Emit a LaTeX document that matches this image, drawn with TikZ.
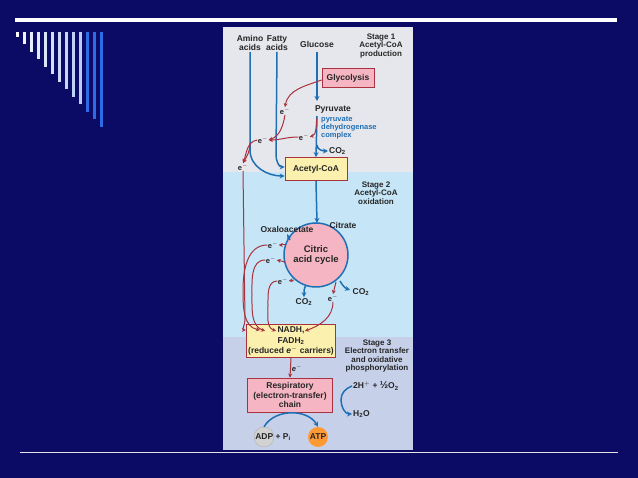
\documentclass[tikz,border=0pt]{standalone}
\usepackage{fontspec}
\setmainfont{Liberation Sans}
\usetikzlibrary{arrows.meta}
\definecolor{bg}{HTML}{0B0B66}
\definecolor{bl}{HTML}{1F6FB5}
\definecolor{rd}{HTML}{A8323F}
\definecolor{pk}{HTML}{F5B5C2}
\definecolor{yl}{HTML}{FBF0AE}
\definecolor{sA}{HTML}{E6E7EC}
\definecolor{sB}{HTML}{C6E6F7}
\definecolor{sC}{HTML}{C6D0E9}
\definecolor{barA}{HTML}{F2F4FA}
\definecolor{barB}{HTML}{2E6BE6}
\tikzset{
 lbl/.style={font=\fontsize{8.5}{9.5}\selectfont\bfseries, text=black!85, align=center, inner sep=1pt},
 stg/.style={lbl, font=\fontsize{8}{8.6}\selectfont\bfseries},
 el/.style={font=\fontsize{7.5}{8}\selectfont\bfseries, inner sep=0.5pt, text=black!85},
 bbox/.style={draw=rd, line width=0.7pt, lbl, inner sep=2pt},
 barr/.style={draw=bl, line width=1.5pt, -{Stealth[length=5pt,width=5pt]}},
 rarr/.style={draw=rd, line width=1pt, -{Stealth[length=4pt,width=4pt]}},
}
\begin{document}
\begin{tikzpicture}[x=1pt,y=-1pt]
\fill[bg] (0,0) rectangle (638,478);
\useasboundingbox (0,0) rectangle (638,478);
\fill[white] (15,18) rectangle (617,22.5);
\draw[white!80!gray, line width=0.6pt] (20,452) -- (618,452);
\foreach \i in {0,...,12}{
  \pgfmathsetmacro{\xx}{17+7.05*\i}
  \pgfmathsetmacro{\yy}{37+7.5*\i}
  \ifnum\i<10 \pgfmathsetmacro{\mix}{100-6*\i}\colorlet{bc}{barA!\mix!barB!60!white}\else\colorlet{bc}{barB}\fi
  \fill[bc] (\xx-1.5,32) rectangle (\xx+1.5,\yy);
}
% panel
\fill[sA] (223,27) rectangle (413,172);
\fill[sB] (223,172) rectangle (413,337);
\fill[sC] (223,337) rectangle (413,450);
% stage 1
\node[lbl] (amino) at (250,43) {Amino\\acids};
\node[lbl] (fatty) at (277,43) {Fatty\\acids};
\node[lbl] (glu) at (317,44) {Glucose};
\node[stg] (st1) at (381,46) {Stage 1\\Acetyl-CoA\\production};
\node[bbox, fill=pk, minimum width=52pt, minimum height=19pt] (gly) at (348,78) {Glycolysis};
\node[lbl] (pyr) at (333,109) {Pyruvate};
\node[font=\fontsize{7.5}{8.3}\selectfont\bfseries, text=bl, align=left, anchor=north west, inner sep=0] (pdh) at (321,116) {pyruvate\\dehydrogenase\\complex};
\node[lbl, anchor=west] (co2a) at (328,151) {CO$_\mathbf{2}$};
\node[bbox, fill=yl, minimum width=62pt, minimum height=23pt] (acoa) at (316,169) {Acetyl-CoA};
\node[el] (e1) at (285,111) {e$^-$};
\node[el] (e2) at (304,137) {e$^-$};
\node[el] (e3) at (263,140) {e$^-$};
\node[el] (e4) at (243,167) {e$^-$};
\coordinate (gtop) at (317,52);
\coordinate (pbot) at (317,116);
\coordinate (pj) at (317,145);
% blue
\draw[barr] (gtop) -- (317,101);
\draw[barr] (pbot) -- (acoa.north);
\draw[barr] (pj) to[out=-90,in=180] (co2a.west);
\draw[barr] (amino.south) -- (250,150) to[out=-90,in=180] (acoa.west |- 0,176);
\draw[barr] (fatty.south) -- (276,155) to[out=-90,in=180] (acoa.west |- 0,167);
% red stage 1
\draw[rarr] (gly.west |- 0,80) to[out=200,in=80] (e1.north);
\draw[rarr] (e1.south) to[out=-100,in=20] (e3.east);
\draw[rarr] (317,118) to[out=-100,in=20] (e2.east);
\draw[rarr] (e2.west) to[out=180,in=0] (e3.east);
\draw[rarr] (e3.west) to[out=190,in=70] (e4.north);
\draw[rarr] (amino.south |- 0,143) to[out=-90,in=60] (e4.north);
% stage 2
\node[stg] (st2) at (376,193) {Stage 2\\Acetyl-CoA\\oxidation};
\draw[bl, line width=1.5pt, fill=pk] (316,255) circle (32);
\node[lbl, font=\fontsize{9.5}{10.5}\selectfont\bfseries] (cac) at (316,255) {Citric\\acid cycle};
\node[lbl] (oxa) at (287,229) {Oxaloacetate};
\node[lbl] (cit) at (343,225) {Citrate};
\draw[barr] (acoa.south) -- (317,223);
\draw[bl, line width=1.5pt, -{Stealth[length=5pt]}] (290,240) -- (287,234);
\node[el] (e5) at (273,245) {e$^-$};
\node[el] (e6) at (271,260) {e$^-$};
\node[el] (e7) at (283,281) {e$^-$};
\node[el] (e8) at (333,298) {e$^-$};
\node[lbl] (co2b) at (304,302) {CO$_\mathbf{2}$};
\node[lbl] (co2c) at (361,292) {CO$_\mathbf{2}$};
\draw[barr] (306,285) to[out=-120,in=90] (co2b.north);
\draw[barr] (340,281) to[out=-60,in=160] (350,290);
\draw[rarr] (286,245) -- (e5.east);
\draw[rarr] (285,262) -- (e6.east);
\draw[rarr] (294,280) -- (e7.east);
\draw[rarr] (336,282) -- (e8.north);
% stage 3
\node[bbox, fill=yl, minimum width=86pt, minimum height=33pt, font=\fontsize{8.5}{10.5}\selectfont\bfseries] (nadh) at (291,341) {NADH,\\FADH$_\mathbf{2}$\\(reduced \textit{e}$^\mathbf{-}$ carriers)};
\node[stg] (st3) at (377,356) {Stage 3\\Electron transfer\\and oxidative\\phosphorylation};
\draw[rarr] (e4.south) -- (245,320) to[out=-90,in=180] (nadh.west |- 0,330);
\draw[rarr] (e5.west) to[out=180,in=90] (243,290) to[out=-90,in=170] (260,330);
\draw[rarr] (e6.west) to[out=180,in=90] (252,295) to[out=-90,in=160] (265,331);
\draw[rarr] (e7.west) to[out=180,in=90] (268,305) to[out=-90,in=160] (276,331);
\draw[rarr] (e8.south) to[out=-90,in=20] (305,331);
\node[el] (e9) at (297,368) {\textit{e}$^-$};
\node[bbox, fill=pk, minimum width=85pt, minimum height=34pt] (resp) at (290,395) {Respiratory\\(electron-transfer)\\chain};
\draw[rarr] (nadh.south) -- (resp.north);
\node[lbl, anchor=west] (o2) at (352,386) {2H$^{\mathbf{+}}$ + {\fontsize{10}{10}\selectfont ½}O$_\mathbf{2}$};
\node[lbl, anchor=west] (h2o) at (352,414) {H$_\mathbf{2}$O};
\draw[barr] (o2.west) to[out=200,in=90] (341,400) to[out=-90,in=180] (h2o.west);
\node[circle, fill=gray!35, draw=gray!60, minimum size=20pt, inner sep=0, lbl] (adp) at (264,437) {};
\node[lbl] at (273,437) {ADP + P$_\mathbf{i}$};
\node[circle, fill=orange!80, minimum size=20pt, inner sep=0, lbl] (atp) at (318,437) {ATP};
\draw[barr] (adp.north) to[out=60,in=120] (atp.north);
\end{tikzpicture}
\end{document}
